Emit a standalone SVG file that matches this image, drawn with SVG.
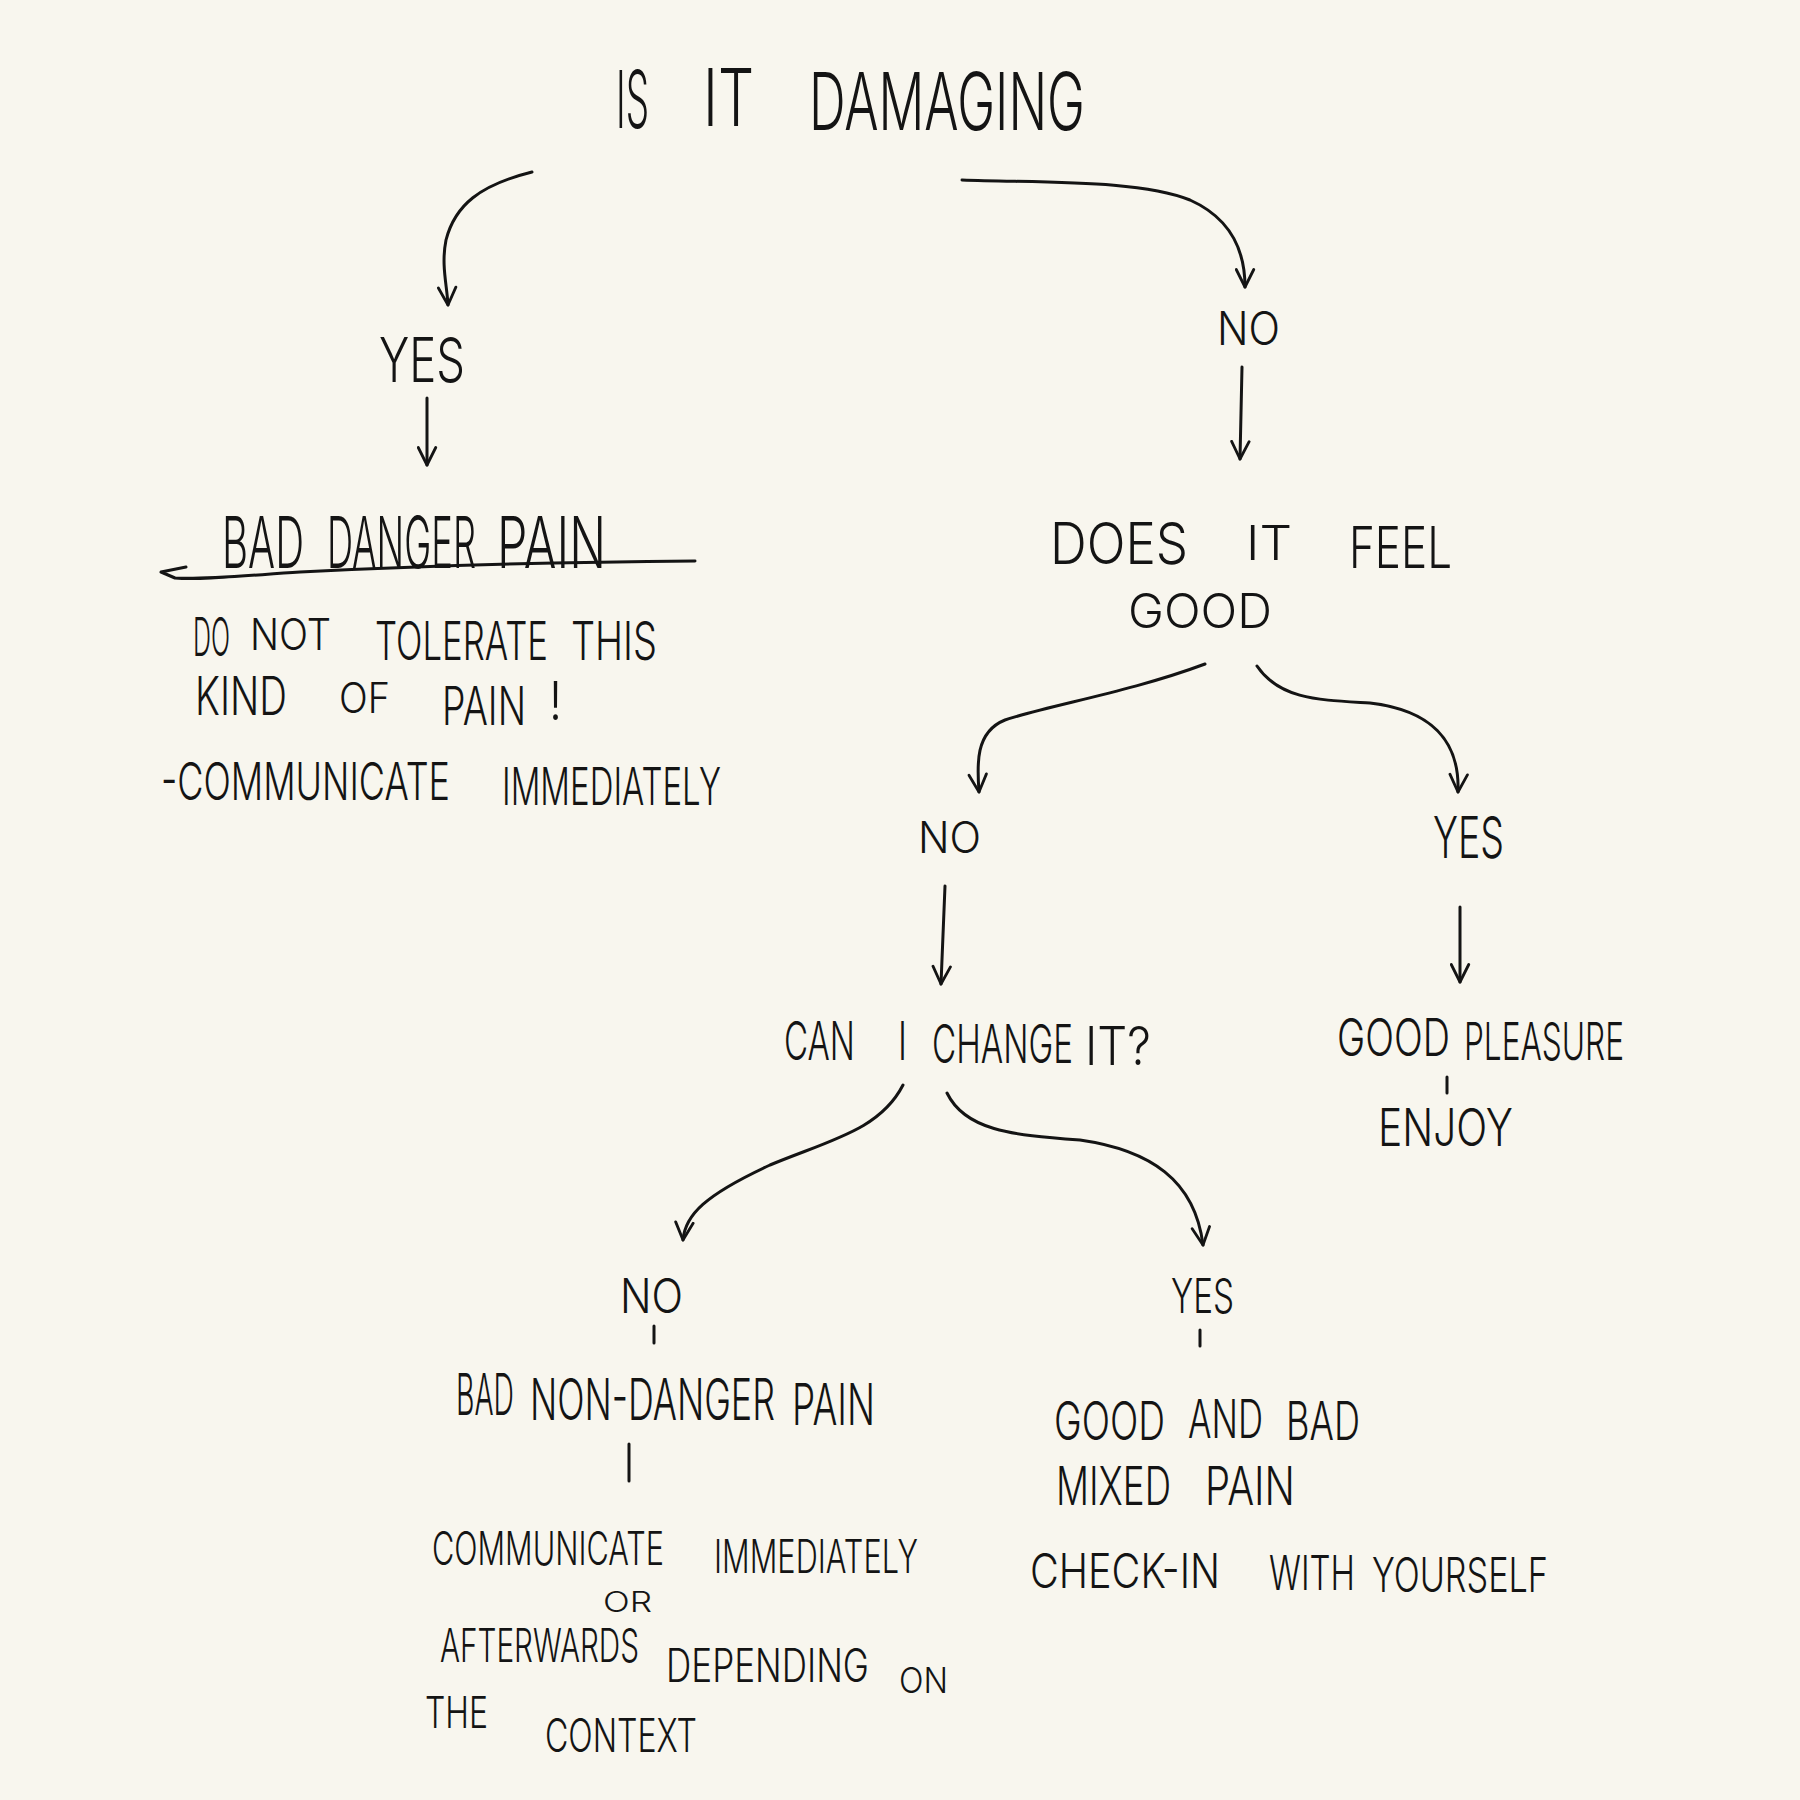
<svg xmlns="http://www.w3.org/2000/svg" width="1800" height="1800" viewBox="0 0 1800 1800">
<defs>
<style>
.t{font-family:"Inter","Liberation Sans Narrow","DejaVu Sans Condensed",sans-serif;fill:#141414;font-weight:300}
.c{fill:none;stroke:#141414;stroke-width:3;stroke-linecap:round;stroke-linejoin:round}
</style>
<marker id="ah" viewBox="0 0 12 12" refX="11" refY="6" markerWidth="7" markerHeight="7" orient="auto" markerUnits="strokeWidth">
<path d="M1,1 L11,6 L1,11" fill="none" stroke="#141414" stroke-width="1.6" stroke-linecap="round" stroke-linejoin="round"/>
</marker>
</defs>
<rect width="1800" height="1800" fill="#f8f6ee"/>
<g id="connectors" class="c">
<path d="M532,172 C480,185 455,205 446,240 C441,265 447,285 448,305" marker-end="url(#ah)"/>
<path d="M962,180 C1050,183 1140,180 1190,200 C1230,218 1245,250 1245,287" marker-end="url(#ah)"/>
<path d="M427,398 L427,465" marker-end="url(#ah)"/>
<path d="M1242,367 L1240,459" marker-end="url(#ah)"/>
<path d="M695,561 C560,562 420,566 300,572 C240,576 200,580 175,578 L161,572 L186,567"/>
<path d="M1205,664 C1130,692 1050,705 1005,720 C975,732 977,765 979,792" marker-end="url(#ah)"/>
<path d="M1257,666 C1280,700 1320,700 1370,703 C1430,710 1460,740 1458,792" marker-end="url(#ah)"/>
<path d="M945,886 L941,984" marker-end="url(#ah)"/>
<path d="M1460,907 L1460,982" marker-end="url(#ah)"/>
<path d="M903,1085 C880,1130 830,1140 770,1165 C705,1195 685,1215 683,1240" marker-end="url(#ah)"/>
<path d="M947,1093 C965,1130 1010,1135 1080,1140 C1150,1150 1195,1180 1203,1245" marker-end="url(#ah)"/>
<path d="M1447,1077 L1447,1093"/>
<path d="M654,1326 L654,1343"/>
<path d="M1200,1330 L1200,1346"/>
<path d="M629,1444 L629,1481"/>
</g>
<g id="n-title" transform="scale(0.6 1)">
<text class="t" font-size="80"><tspan x="1026.7" y="128" textLength="55" lengthAdjust="spacingAndGlyphs">IS</tspan><tspan x="1171.7" y="126" textLength="85" lengthAdjust="spacingAndGlyphs">IT</tspan><tspan x="1348.3" y="130" textLength="460" lengthAdjust="spacingAndGlyphs">DAMAGING</tspan></text>
</g>
<g id="n-yes1" transform="scale(0.6 1)"><text class="t" x="631.7" y="382" font-size="62" textLength="143.3" lengthAdjust="spacingAndGlyphs">YES</text></g>
<g id="n-bad-danger" transform="scale(0.6 1)">
<text class="t" font-size="72"><tspan x="370" y="568" textLength="136.7" lengthAdjust="spacingAndGlyphs">BAD</tspan><tspan x="545" y="568" textLength="248.3" lengthAdjust="spacingAndGlyphs">DANGER</tspan><tspan x="828.3" y="568" textLength="181.7" lengthAdjust="spacingAndGlyphs">PAIN</tspan></text>
<text class="t" font-size="54"><tspan x="321.7" y="656" textLength="61.7" lengthAdjust="spacingAndGlyphs">DO</tspan><tspan x="416.7" y="650" font-size="44" textLength="135" lengthAdjust="spacingAndGlyphs">NOT</tspan><tspan x="625" y="660" textLength="288.3" lengthAdjust="spacingAndGlyphs">TOLERATE</tspan><tspan x="951.7" y="660" textLength="143.3" lengthAdjust="spacingAndGlyphs">THIS</tspan></text>
<text class="t" font-size="54"><tspan x="325" y="715" textLength="153.3" lengthAdjust="spacingAndGlyphs">KIND</tspan><tspan x="565" y="713" font-size="42" textLength="85" lengthAdjust="spacingAndGlyphs">OF</tspan><tspan x="736.7" y="725" textLength="140" lengthAdjust="spacingAndGlyphs">PAIN</tspan><tspan x="915" y="720" textLength="21.7" lengthAdjust="spacingAndGlyphs">!</tspan></text>
<text class="t" font-size="52"><tspan x="268.3" y="800" textLength="481.7" lengthAdjust="spacingAndGlyphs">-COMMUNICATE</tspan><tspan x="836.7" y="805" textLength="365" lengthAdjust="spacingAndGlyphs">IMMEDIATELY</tspan></text>
</g>
<g id="n-no1" transform="scale(0.6 1)"><text class="t" x="2028.3" y="345" font-size="46" textLength="105" lengthAdjust="spacingAndGlyphs">NO</text></g>
<g id="n-feel" transform="scale(0.6 1)">
<text class="t" font-size="58"><tspan x="1750" y="564" textLength="230" lengthAdjust="spacingAndGlyphs">DOES</tspan><tspan x="2076.7" y="560" font-size="48" textLength="76.7" lengthAdjust="spacingAndGlyphs">IT</tspan><tspan x="2248.3" y="568" textLength="171.7" lengthAdjust="spacingAndGlyphs">FEEL</tspan></text>
<text class="t" x="1880" y="628" font-size="48" textLength="240" lengthAdjust="spacingAndGlyphs">GOOD</text>
</g>
<g id="n-no2" transform="scale(0.6 1)"><text class="t" x="1530" y="853" font-size="44" textLength="105" lengthAdjust="spacingAndGlyphs">NO</text></g>
<g id="n-yes2" transform="scale(0.6 1)"><text class="t" x="2388.3" y="858" font-size="58" textLength="118.3" lengthAdjust="spacingAndGlyphs">YES</text></g>
<g id="n-change" transform="scale(0.6 1)">
<text class="t" font-size="54"><tspan x="1306.7" y="1060" textLength="118.3" lengthAdjust="spacingAndGlyphs">CAN</tspan><tspan x="1496.7" y="1060" textLength="15" lengthAdjust="spacingAndGlyphs">I</tspan><tspan x="1553.3" y="1063" textLength="235" lengthAdjust="spacingAndGlyphs">CHANGE</tspan><tspan x="1808.3" y="1065" textLength="110" lengthAdjust="spacingAndGlyphs">IT?</tspan></text>
</g>
<g id="n-pleasure" transform="scale(0.6 1)">
<text class="t" font-size="52"><tspan x="2228.3" y="1056" textLength="188.3" lengthAdjust="spacingAndGlyphs">GOOD</tspan><tspan x="2440" y="1060" textLength="266.7" lengthAdjust="spacingAndGlyphs">PLEASURE</tspan></text>
<text class="t" x="2296.7" y="1146" font-size="52" textLength="225" lengthAdjust="spacingAndGlyphs">ENJOY</text>
</g>
<g id="n-no3" transform="scale(0.6 1)"><text class="t" x="1033.3" y="1313" font-size="48" textLength="105" lengthAdjust="spacingAndGlyphs">NO</text></g>
<g id="n-yes3" transform="scale(0.6 1)"><text class="t" x="1951.7" y="1313" font-size="48" textLength="105" lengthAdjust="spacingAndGlyphs">YES</text></g>
<g id="n-nondanger" transform="scale(0.6 1)">
<text class="t" font-size="58"><tspan x="760" y="1415" textLength="96.7" lengthAdjust="spacingAndGlyphs">BAD</tspan><tspan x="883.3" y="1420" textLength="408.3" lengthAdjust="spacingAndGlyphs">NON-DANGER</tspan><tspan x="1320" y="1425" textLength="138.3" lengthAdjust="spacingAndGlyphs">PAIN</tspan></text>
<text class="t" font-size="46"><tspan x="720" y="1565" textLength="386.7" lengthAdjust="spacingAndGlyphs">COMMUNICATE</tspan><tspan x="1190" y="1573" textLength="340" lengthAdjust="spacingAndGlyphs">IMMEDIATELY</tspan></text>
<text class="t" x="1005" y="1612" font-size="28" textLength="81.7" lengthAdjust="spacingAndGlyphs">OR</text>
<text class="t" font-size="46"><tspan x="733.3" y="1662" textLength="331.7" lengthAdjust="spacingAndGlyphs">AFTERWARDS</tspan><tspan x="1110" y="1682" textLength="338.3" lengthAdjust="spacingAndGlyphs">DEPENDING</tspan><tspan x="1498.3" y="1693" font-size="36" textLength="81.7" lengthAdjust="spacingAndGlyphs">ON</tspan></text>
<text class="t" font-size="44"><tspan x="708.3" y="1728" textLength="105" lengthAdjust="spacingAndGlyphs">THE</tspan><tspan x="908.3" y="1752" font-size="46" textLength="253.3" lengthAdjust="spacingAndGlyphs">CONTEXT</tspan></text>
</g>
<g id="n-mixed" transform="scale(0.6 1)">
<text class="t" font-size="54"><tspan x="1756.7" y="1440" textLength="185" lengthAdjust="spacingAndGlyphs">GOOD</tspan><tspan x="1980" y="1438" textLength="125" lengthAdjust="spacingAndGlyphs">AND</tspan><tspan x="2143.3" y="1440" textLength="123.3" lengthAdjust="spacingAndGlyphs">BAD</tspan></text>
<text class="t" font-size="54"><tspan x="1760" y="1505" textLength="191.7" lengthAdjust="spacingAndGlyphs">MIXED</tspan><tspan x="2008.3" y="1505" textLength="150" lengthAdjust="spacingAndGlyphs">PAIN</tspan></text>
<text class="t" font-size="48"><tspan x="1716.7" y="1588" textLength="316.7" lengthAdjust="spacingAndGlyphs">CHECK-IN</tspan><tspan x="2115" y="1590" textLength="143.3" lengthAdjust="spacingAndGlyphs">WITH</tspan><tspan x="2286.7" y="1592" textLength="293.3" lengthAdjust="spacingAndGlyphs">YOURSELF</tspan></text>
</g>
</svg>
